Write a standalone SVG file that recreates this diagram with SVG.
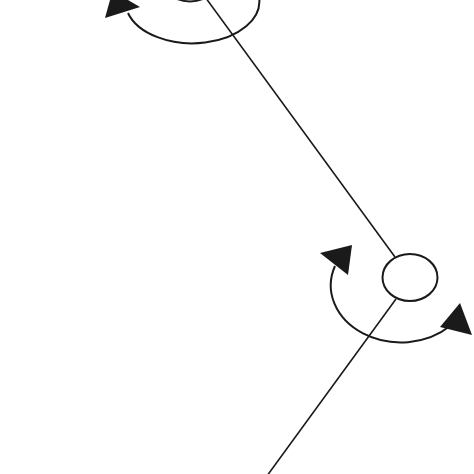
<svg xmlns="http://www.w3.org/2000/svg" width="474" height="474" viewBox="0 0 474 474">
<style>
.bg{fill:#ffffff}
.node{fill:#ffffff;stroke:#1a1a1a;stroke-width:2}
.link{fill:none;stroke:#1a1a1a;stroke-width:1.6}
.arc{fill:none;stroke:#1a1a1a;stroke-width:2}
.head{fill:#1a1a1a;stroke:none}
</style>
<rect class="bg" x="0" y="0" width="474" height="474"/>
<g id="connectors">
<line class="link" x1="200" y1="-10" x2="395" y2="257"/>
<line class="link" x1="396" y1="299" x2="264" y2="480"/>
</g>
<g id="rotation-top">
<path class="arc" d="M 259 -3 A 67 42 0 0 1 128 13"/>
<polygon class="head" points="105,18 112.5,-9 140,7"/>
</g>
<g id="rotation-bottom">
<path class="arc" d="M 335 266 A 70 57 0 0 0 450 326"/>
<polygon class="head" points="320,253 352,245 348,275"/>
<polygon class="head" points="440,327 460,303 472,335"/>
</g>
<g id="node-top">
<ellipse class="node" cx="190" cy="-22" rx="28" ry="23.5"/>
</g>
<g id="node-bottom">
<ellipse class="node" cx="410" cy="277.5" rx="27.5" ry="23.5"/>
</g>
</svg>
